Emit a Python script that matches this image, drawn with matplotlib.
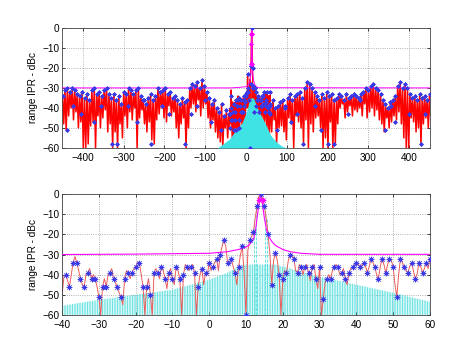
import numpy as np
import matplotlib
matplotlib.use('Agg')
import matplotlib.pyplot as plt

plt.rcParams['font.family'] = ['Liberation Sans', 'DejaVu Sans']
plt.rcParams['hatch.linewidth'] = 0.6
plt.rcParams['hatch.color'] = '#55dede'

# ---- coarse view (top): local highs / lows of the sidelobe clutter, every 6 samples
coarse_x = np.arange(-450, 451, 6)
coarse_hi = [-34, -31, -30, -32, -30, -31, -33, -34, -32, -35,
             -33, -36, -31, -30, -33, -32, -34, -31, -30, -33,
             -35, -33, -36, -34, -38, -32, -33, -30, -31, -33,
             -31, -30, -34, -36, -38, -35, -33, -36, -34, -30,
             -32, -31, -30, -33, -32, -35, -34, -36, -38, -35,
             -37, -36, -30, -28, -29, -27, -30, -26, -29, -32,
             -35, -38, -36, -40, -42, -38, -44, -41, -43, -40,
             -38, -36, -35, -36, -34, -33, -30, -28, -30, -32,
             -34, -36, -38, -37, -40, -38, -36, -40, -39, -37,
             -36, -40, -35, -33, -36, -34, -33, -32, -35, -30,
             -27, -28, -30, -32, -34, -36, -33, -35, -32, -34,
             -33, -36, -35, -33, -34, -36, -33, -35, -34, -33,
             -34, -35, -33, -32, -30, -31, -29, -28, -30, -31,
             -33, -36, -38, -40, -37, -36, -34, -29, -27, -30,
             -28, -30, -33, -35, -34, -36, -33, -35, -34, -36,
             -33]
coarse_lo = [-48, -51, -44, -40, -46, -42, -50, -47, -60, -60,
             -58, -49, -47, -60, -44, -50, -45, -41, -52, -48,
             -60, -52, -60, -48, -55, -44, -50, -42, -46, -40,
             -60, -45, -41, -48, -52, -47, -56, -58, -46, -43,
             -40, -45, -47, -39, -44, -42, -50, -55, -48, -45,
             -60, -50, -40, -38, -42, -36, -44, -40, -38, -45,
             -50, -46, -52, -55, -57, -60, -50, -55, -48, -60,
             -50, -55, -47, -52, -45, -40, -45, -60, -60, -44,
             -60, -45, -50, -48, -55, -52, -46, -58, -50, -49,
             -52, -56, -45, -48, -60, -44, -47, -50, -58, -46,
             -60, -48, -52, -45, -44, -50, -60, -55, -60, -47,
             -60, -58, -48, -40, -38, -45, -42, -39, -44, -41,
             -42, -40, -44, -38, -45, -42, -40, -44, -41, -46,
             -48, -52, -45, -50, -47, -44, -46, -42, -48, -55,
             -60, -60, -45, -47, -52, -50, -58, -48, -45, -50,
             -46]

# isolated lower samples visible in the top panel
low_x = [-440, -425, -405, -372, -355, -328, -316, -290, -268, -250, -232, -205,
         -190, -150, -135, -120, -100, -85, -62, -40, 60, 75, 95, 110, 125, 140,
         170, 185, 200, 215, 250, 280, 340, 355, 365, 400, 428, 440]
low_y = [-51, -39, -43, -47, -39, -58, -58, -39, -47, -36, -58, -39,
         -43, -58, -43, -39, -36, -47, -51, -43, -43, -51, -39, -47, -43, -58,
         -39, -51, -58, -58, -43, -36, -51, -39, -47, -43, -58, -43]

# ---- fine view (bottom): interpolated response every 0.5 sample from -40 to 60
fine_x = np.arange(-40, 60.5, 0.5)
fine_red = [-50, -41, -40, -43, -46, -40, -34, -31, -34, -38,
            -42, -45, -46, -40, -39, -37, -42, -40, -42, -46,
            -51, -60, -46, -42, -46, -40, -39, -37, -42, -44,
            -46, -49, -51, -55, -42, -38, -39, -42, -39, -37,
            -36, -34, -34, -40, -46, -60, -46, -42, -50, -60,
            -39, -37, -39, -42, -36, -38, -42, -47, -39, -37,
            -42, -45, -36, -38, -42, -60, -40, -35, -36, -38,
            -36, -35, -39, -60, -46, -40, -37, -45, -39, -40,
            -34, -38, -36, -34, -32, -38, -30, -26, -23, -26,
            -34, -35, -32, -36, -39, -45, -36, -30, -26, -40,
            -60, -28, -23, -21, -19, -12, -6, -1, 0, -2,
            -6, -12, -20, -30, -45, -33, -29, -33, -40, -60,
            -42, -38, -39, -33, -30, -30, -32, -38, -39, -35,
            -36, -40, -36, -35, -39, -43, -36, -35, -42, -47,
            -36, -60, -52, -44, -42, -40, -42, -38, -36, -35,
            -36, -40, -39, -37, -42, -45, -39, -37, -36, -35,
            -34, -35, -36, -35, -34, -36, -39, -36, -32, -34,
            -36, -40, -42, -36, -32, -35, -39, -35, -32, -33,
            -36, -45, -51, -40, -32, -34, -36, -38, -39, -36,
            -34, -38, -42, -40, -34, -36, -39, -37, -34, -37,
            -32]
assert len(fine_red) == len(fine_x)

# -30 dBc mask with the mainlobe allowance
mask_x = [-451, -40, -20, 0, 5, 8, 10, 11, 12, 12.5, 13, 13.5, 14,
          14.5, 15, 15.5, 16, 17, 18, 20, 22, 25, 30, 451]
mask_y = [-30, -30, -29.8, -29.4, -28.6, -27.5, -26.3, -25, -22.5, -19, -12, -5, 0,
          -5, -12, -17, -20.5, -23.5, -25.5, -27.5, -28.6, -29.4, -29.9, -30]
peak_x = [13.4, 14.7, 13.2, 12.6, 15.5]
peak_y = [-3, -3, -8, -18, -18]

# envelope of the rapidly oscillating reference (cyan)
cyan_x = [-70, -60, -50, -40, -30, -20, -10, 0, 5, 8, 10, 12, 14, 16, 18,
          20, 25, 30, 40, 50, 60, 70, 80, 90, 100]
cyan_y = [-60, -58.5, -57, -55.5, -52.5, -50, -47.5, -42.5, -39, -36, -35, -35, -35, -35, -35,
          -36, -38.5, -41, -45, -49, -53.5, -56, -58, -59.3, -60]
lobe_x = [12.3, 12.8, 15.2, 15.7]
lobe_top = [-12, -6, -6, -12]

STAR = (8, 2, 0)
BLUE = '#3a3ae6'


def style_axes(ax, xlim, xticks):
    ax.set_xlim(xlim)
    ax.set_ylim(-60, 0)
    ax.set_xticks(xticks)
    ax.set_yticks(range(-60, 1, 10))
    ax.grid(True, linestyle=':', color='#9a9a9a', linewidth=0.6)
    ax.set_axisbelow(True)
    ax.tick_params(direction='in', top=True, right=True, length=2.5, width=0.5,
                   labelsize=7.2, pad=2)
    ax.tick_params(axis='x', pad=3.5)
    for s in ax.spines.values():
        s.set_linewidth(0.6)
        s.set_color('#444444')
    ax.set_ylabel('range IPR - dBc', fontsize=7.2, labelpad=3)


fig = plt.figure(figsize=(4.74, 3.53), dpi=100)
ax1 = fig.add_axes([0.131, 0.581, 0.776, 0.340])
ax2 = fig.add_axes([0.131, 0.108, 0.776, 0.342])

# top: whole swath
zig_x = np.column_stack([coarse_x, coarse_x + 3]).ravel()
zig_y = np.column_stack([coarse_hi, coarse_lo]).ravel()
ax1.plot(zig_x, zig_y, color='r', lw=1.1, zorder=2)
ax1.plot(fine_x, fine_red, color='r', lw=0.9, zorder=2)
ax1.fill_between(cyan_x, -60, cyan_y, color='#3fe3e3', lw=0, zorder=3)
ax1.plot(mask_x, mask_y, color='#ff00ff', lw=0.7, zorder=4)
ax1.plot(coarse_x, coarse_hi, ls='none', marker=STAR, ms=3, mew=0.5, color=BLUE, zorder=5)
ax1.plot(low_x, low_y, ls='none', marker=STAR, ms=3, mew=0.5, color=BLUE, zorder=5)
ax1.plot(fine_x[::4], fine_red[::4], ls='none', marker=STAR, ms=3, mew=0.5, color=BLUE, zorder=5)
ax1.plot(peak_x, peak_y, ls='none', marker=STAR, ms=3, mew=0.5, color='#ff00ff', zorder=6)
style_axes(ax1, (-451, 451), range(-400, 401, 100))

# bottom: zoom around the mainlobe
ax2.fill_between(cyan_x, -60, cyan_y, facecolor='none', edgecolor='#55dede',
                 hatch='||||||||||', lw=0, zorder=1)
ax2.vlines(lobe_x, -60, lobe_top, colors='#55dede', linestyles='dashed', lw=0.6, zorder=1)
ax2.plot(fine_x, fine_red, color='#ee5a5a', lw=0.7, zorder=2)
ax2.plot(mask_x, mask_y, color='#ff00ff', lw=0.8, zorder=3)
ax2.plot(fine_x[2::2], fine_red[2::2], ls='none', marker=STAR, ms=4, mew=0.5, color=BLUE, zorder=4)
ax2.plot(peak_x[:2], peak_y[:2], ls='none', marker=STAR, ms=4, mew=0.5, color='#ff00ff', zorder=5)
style_axes(ax2, (-40, 60), range(-40, 61, 10))

fig.savefig('out.png', dpi=100)
